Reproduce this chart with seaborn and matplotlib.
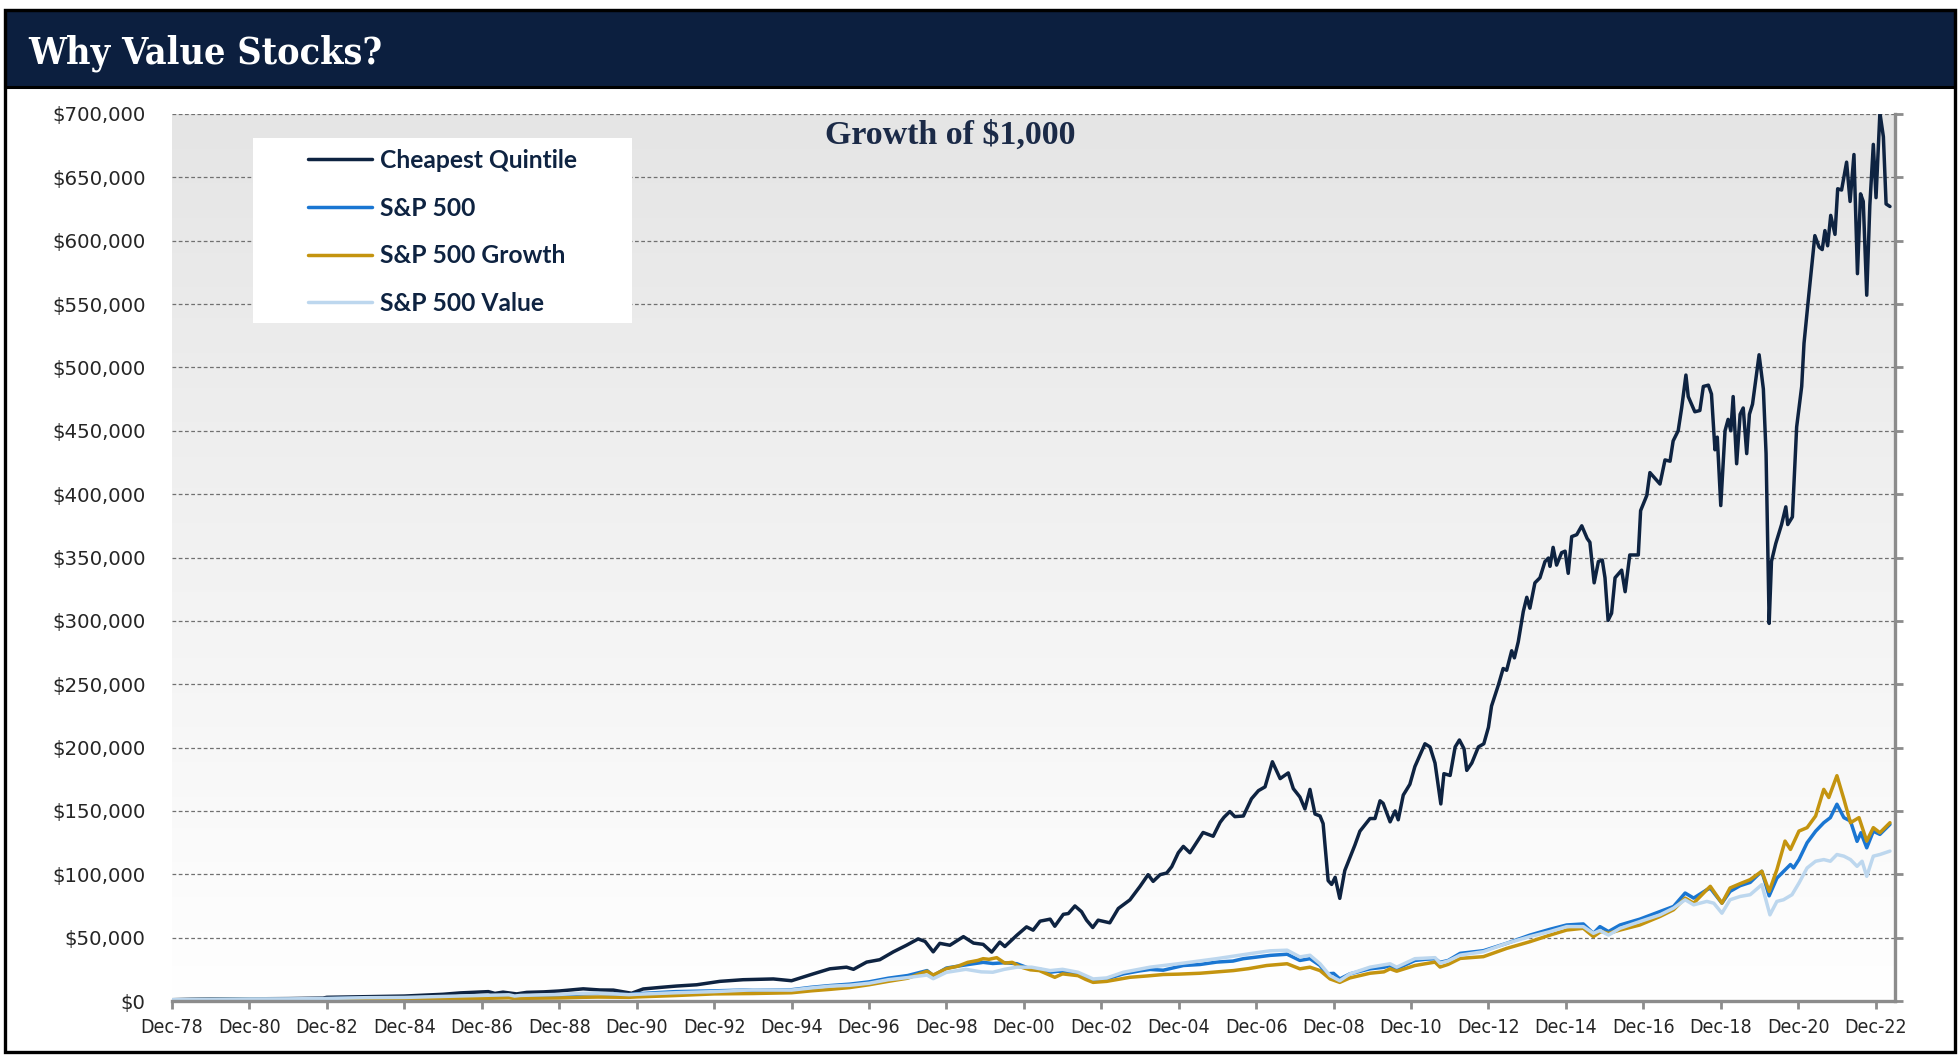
import numpy as np
import pandas as pd
import seaborn as sns
import matplotlib.pyplot as plt
from matplotlib.patches import Rectangle
from matplotlib.lines import Line2D
from matplotlib.colors import LinearSegmentedColormap
from matplotlib.ticker import FuncFormatter

series_names = ['Cheapest Quintile', 'S&P 500', 'S&P 500 Growth', 'S&P 500 Value']
series_colors = ['#0e2341', '#1a76d2', '#c4940f', '#bdd7ee']

tick_years = [1979, 1981, 1983, 1985, 1987, 1989, 1991, 1993, 1995, 1997, 1999, 2001,
              2003, 2005, 2007, 2009, 2011, 2013, 2015, 2017, 2019, 2021, 2023]
tick_labels = ['Dec-78', 'Dec-80', 'Dec-82', 'Dec-84', 'Dec-86', 'Dec-88', 'Dec-90', 'Dec-92',
               'Dec-94', 'Dec-96', 'Dec-98', 'Dec-00', 'Dec-02', 'Dec-04', 'Dec-06', 'Dec-08',
               'Dec-10', 'Dec-12', 'Dec-14', 'Dec-16', 'Dec-18', 'Dec-20', 'Dec-22']

# Cheapest quintile (x = decimal year, Dec-78 = 1979.0)
cq_year = [1979.00, 1979.50, 1980.00, 1981.00, 1982.00, 1982.90, 1983.00, 1984.00, 1985.00, 1986.00,
           1986.45, 1987.17, 1987.34, 1987.55, 1987.90, 1988.16, 1988.60, 1989.00, 1989.62, 1990.05,
           1990.40, 1990.87, 1991.17, 1991.60, 1992.03, 1992.55, 1993.15, 1993.75, 1994.53, 1995.00,
           1995.56, 1995.99, 1996.42, 1996.60, 1996.94, 1997.28, 1997.63, 1997.97, 1998.27, 1998.45,
           1998.66, 1998.83, 1999.09, 1999.44, 1999.70, 1999.95, 2000.17, 2000.38, 2000.51, 2000.82,
           2001.07, 2001.24, 2001.42, 2001.68, 2001.80, 2002.02, 2002.15, 2002.32, 2002.49, 2002.62,
           2002.78, 2002.92, 2003.22, 2003.44, 2003.74, 2004.00, 2004.21, 2004.34, 2004.52, 2004.69,
           2004.82, 2004.99, 2005.12, 2005.29, 2005.63, 2005.89, 2006.07, 2006.17, 2006.32, 2006.45,
           2006.67, 2006.88, 2007.06, 2007.23, 2007.42, 2007.62, 2007.83, 2007.96, 2008.13, 2008.26,
           2008.39, 2008.52, 2008.65, 2008.73, 2008.86, 2008.95, 2009.04, 2009.16, 2009.29, 2009.42,
           2009.55, 2009.68, 2009.94, 2010.07, 2010.20, 2010.28, 2010.46, 2010.59, 2010.67, 2010.80,
           2010.97, 2011.10, 2011.36, 2011.49, 2011.62, 2011.77, 2011.85, 2012.01, 2012.14, 2012.25,
           2012.37, 2012.44, 2012.57, 2012.74, 2012.88, 2013.00, 2013.08, 2013.26, 2013.38, 2013.47,
           2013.60, 2013.67, 2013.77, 2013.90, 2013.99, 2014.07, 2014.20, 2014.33, 2014.46, 2014.55,
           2014.59, 2014.67, 2014.76, 2014.89, 2014.98, 2015.06, 2015.15, 2015.28, 2015.41, 2015.55,
           2015.62, 2015.73, 2015.84, 2015.94, 2016.01, 2016.09, 2016.18, 2016.27, 2016.44, 2016.53,
           2016.65, 2016.87, 2016.93, 2017.09, 2017.17, 2017.43, 2017.56, 2017.69, 2017.77, 2017.90,
           2017.99, 2018.10, 2018.16, 2018.33, 2018.46, 2018.55, 2018.68, 2018.76, 2018.85, 2018.91,
           2019.00, 2019.11, 2019.19, 2019.26, 2019.32, 2019.41, 2019.50, 2019.58, 2019.67, 2019.74,
           2019.82, 2019.99, 2020.10, 2020.17, 2020.25, 2020.31, 2020.42, 2020.57, 2020.68, 2020.73,
           2020.85, 2020.96, 2021.09, 2021.15, 2021.26, 2021.43, 2021.54, 2021.62, 2021.69, 2021.76,
           2021.84, 2021.95, 2022.02, 2022.12, 2022.25, 2022.34, 2022.44, 2022.53, 2022.61, 2022.68,
           2022.77, 2022.85, 2022.94, 2023.01, 2023.11, 2023.20, 2023.27, 2023.37]
cq_value = [1000, 1300, 1500, 1700, 1900, 2300, 2900, 3400, 3900, 5300,
            6400, 7400, 6000, 7000, 5600, 6800, 7200, 7900, 9600, 8700,
            8600, 6100, 9500, 10700, 11800, 12800, 15500, 16800, 17400, 16000,
            21400, 25400, 26700, 25000, 30700, 32600, 38800, 44000, 49000, 47000,
            38800, 45500, 44000, 50800, 45700, 44700, 38600, 46500, 43000, 51900,
            58500, 55900, 63000, 64600, 59000, 68400, 69000, 75000, 70500, 63800,
            58000, 63800, 61700, 73000, 79800, 90400, 99700, 94400, 99700, 101000,
            106000, 117000, 122000, 117000, 133000, 130000, 141000, 145000, 149500, 145500,
            146000, 159600, 166000, 169000, 188800, 175500, 180000, 167600, 161000, 151600,
            167000, 147600, 146000, 140000, 95000, 92000, 97600, 81000, 103000, 113000,
            123000, 134000, 144000, 144000, 158000, 156000, 141400, 150000, 143000, 162500,
            171000, 185000, 203000, 200500, 187800, 155500, 179400, 178000, 200500, 206000,
            199000, 182000, 187800, 200500, 203000, 216000, 232800, 249700, 262400, 261000,
            276400, 270800, 283500, 307400, 318600, 310000, 330000, 334000, 346800, 349600,
            343000, 358000, 344000, 353800, 355000, 337500, 366500, 368000, 375000, 365000,
            362000, 330000, 346800, 348000, 334000, 300400, 306000, 334000, 340000, 323000,
            352000, 352000, 387000, 399000, 417000, 408000, 427000, 426000, 442000, 450000,
            468000, 494000, 477000, 465000, 466000, 485000, 486000, 479000, 435000, 445000,
            391000, 450000, 459000, 450000, 477000, 424000, 463000, 468000, 432000, 463000,
            471000, 510000, 483000, 432000, 298000, 347000, 361000, 376000, 390000, 376000,
            382000, 453000, 485000, 519000, 553000, 604000, 595000, 593000, 608000, 596000,
            620000, 605000, 641000, 640000, 662000, 631000, 668000, 574000, 637000, 631000,
            557000, 628000, 676000, 634000, 701000, 682000, 629000, 627000]

sp_year = [1979.0, 1980.0, 1981.0, 1982.0, 1983.0, 1984.0, 1985.0, 1986.0, 1987.0, 1987.7,
           1987.85, 1988.0, 1989.0, 1989.6, 1990.0, 1990.8, 1991.0, 1992.0, 1993.0, 1994.0,
           1995.0, 1995.5, 1996.0, 1996.5, 1997.0, 1997.5, 1998.0, 1998.5, 1998.66, 1999.0,
           1999.5, 1999.95, 2000.2, 2000.5, 2000.82, 2001.17, 2001.45, 2001.68, 2001.9, 2002.4,
           2002.62, 2002.79, 2003.14, 2003.57, 2004.0, 2004.26, 2004.6, 2005.12, 2005.55, 2005.98,
           2006.4, 2006.67, 2007.0, 2007.36, 2007.8, 2008.13, 2008.39, 2008.65, 2008.82, 2009.0,
           2009.16, 2009.42, 2009.94, 2010.3, 2010.46, 2010.63, 2011.1, 2011.4, 2011.62, 2011.75,
           2011.96, 2012.27, 2012.87, 2013.47, 2014.07, 2014.59, 2015.02, 2015.45, 2015.71, 2015.88,
           2016.1, 2016.4, 2016.91, 2017.43, 2017.78, 2018.08, 2018.3, 2018.64, 2018.73, 2019.03,
           2019.24, 2019.5, 2019.76, 2020.06, 2020.25, 2020.45, 2020.8, 2020.88, 2021.02, 2021.23,
           2021.45, 2021.66, 2021.83, 2022.0, 2022.18, 2022.35, 2022.52, 2022.62, 2022.77, 2022.94,
           2023.11, 2023.37]
sp_value = [1000, 1200, 1550, 1500, 1800, 2200, 2350, 3100, 3650, 4300,
            3300, 3850, 4500, 5600, 5900, 5000, 5700, 7400, 8000, 8800,
            8900, 10800, 12200, 13300, 15100, 18000, 20100, 24000, 20000, 26000,
            28500, 30500, 29600, 30200, 29400, 25400, 24800, 22700, 23500, 20900,
            18800, 16600, 17400, 21400, 23800, 24900, 24300, 28000, 28800, 30700,
            31500, 33400, 34600, 36000, 36900, 32000, 33400, 28000, 21400, 21800,
            17400, 21400, 25400, 26600, 28000, 25400, 32000, 33000, 33400, 30500,
            32000, 37600, 39700, 45500, 52000, 56600, 60000, 60800, 53400, 58700,
            54800, 60000, 64600, 70600, 74600, 85200, 81200, 87800, 89000, 77200,
            86500, 91000, 93600, 102400, 83000, 97000, 107700, 105000, 111600, 124900,
            134000, 140700, 144700, 155300, 144700, 142000, 126000, 132800, 120900, 134000,
            131500, 139400]

gr_year = [1979.0, 1980.0, 1981.0, 1982.0, 1983.0, 1984.0, 1985.0, 1986.0, 1987.0, 1987.7,
           1987.85, 1988.0, 1989.0, 1989.6, 1990.0, 1990.8, 1991.0, 1992.0, 1993.0, 1994.0,
           1995.0, 1995.5, 1996.0, 1996.5, 1997.0, 1997.5, 1998.0, 1998.5, 1998.66, 1999.0,
           1999.3, 1999.55, 1999.81, 1999.95, 2000.1, 2000.3, 2000.51, 2000.7, 2000.9, 2001.17,
           2001.4, 2001.55, 2001.8, 2002.0, 2002.4, 2002.6, 2002.79, 2003.14, 2003.74, 2004.2,
           2004.6, 2005.0, 2005.55, 2006.0, 2006.41, 2006.8, 2007.27, 2007.8, 2008.13, 2008.39,
           2008.65, 2008.91, 2009.16, 2009.42, 2009.94, 2010.3, 2010.46, 2010.63, 2011.1, 2011.62,
           2011.75, 2011.96, 2012.27, 2012.87, 2013.47, 2014.07, 2014.59, 2015.02, 2015.45, 2015.71,
           2015.9, 2016.1, 2016.4, 2016.91, 2017.43, 2017.78, 2018.08, 2018.3, 2018.64, 2018.73,
           2019.03, 2019.24, 2019.5, 2019.76, 2020.06, 2020.25, 2020.45, 2020.66, 2020.8, 2021.02,
           2021.23, 2021.45, 2021.66, 2021.79, 2022.0, 2022.18, 2022.35, 2022.57, 2022.77, 2022.94,
           2023.11, 2023.37]
gr_value = [1000, 1100, 1250, 1150, 1250, 1350, 1400, 1700, 2000, 2500,
            1950, 2100, 2400, 2900, 3100, 2900, 3200, 4300, 5600, 5900,
            6500, 8000, 9200, 10600, 12800, 15500, 18000, 23500, 20500, 25500,
            27500, 30500, 32000, 33400, 32900, 34200, 29900, 30500, 27000, 24600,
            24000, 22000, 18700, 21400, 20000, 17000, 14700, 15500, 18700, 19800,
            20900, 21200, 21900, 23000, 24000, 25500, 28000, 29400, 25400, 26700,
            24000, 17400, 14700, 18200, 21900, 23000, 25400, 23500, 28000, 30700,
            26800, 28900, 33600, 35000, 41500, 46800, 52000, 56000, 57400, 50800,
            54800, 53400, 56000, 60000, 66700, 72000, 81200, 77200, 87800, 90500,
            77200, 89200, 92600, 95800, 102400, 86500, 103700, 126200, 119600, 134100,
            136800, 146000, 167000, 160600, 177800, 159300, 140700, 144700, 126200, 136800,
            132800, 140700]

va_year = [1979.0, 1980.0, 1981.0, 1982.0, 1983.0, 1984.0, 1985.0, 1986.0, 1987.0, 1987.7,
           1987.85, 1988.0, 1989.0, 1989.6, 1990.0, 1990.8, 1991.0, 1992.0, 1993.0, 1994.0,
           1995.0, 1995.5, 1996.0, 1996.5, 1997.0, 1997.5, 1998.0, 1998.5, 1998.66, 1999.0,
           1999.5, 1999.9, 2000.2, 2000.5, 2000.82, 2001.2, 2001.68, 2002.0, 2002.4, 2002.79,
           2003.14, 2003.57, 2004.26, 2005.12, 2005.98, 2006.85, 2007.36, 2007.8, 2008.13, 2008.39,
           2008.65, 2008.91, 2009.16, 2009.42, 2009.94, 2010.46, 2010.63, 2011.1, 2011.62, 2011.75,
           2011.96, 2012.27, 2012.87, 2013.47, 2014.07, 2014.59, 2015.02, 2015.45, 2015.71, 2015.88,
           2016.1, 2016.4, 2016.91, 2017.43, 2017.78, 2018.08, 2018.3, 2018.64, 2018.82, 2019.03,
           2019.24, 2019.5, 2019.76, 2020.06, 2020.27, 2020.45, 2020.62, 2020.84, 2021.02, 2021.23,
           2021.45, 2021.66, 2021.83, 2022.0, 2022.18, 2022.35, 2022.52, 2022.65, 2022.77, 2022.94,
           2023.11, 2023.37]
va_value = [1000, 1250, 1600, 1650, 2000, 2600, 2800, 3600, 4400, 4900,
            3900, 4400, 5200, 6100, 6200, 5000, 5300, 6500, 7400, 8800,
            8600, 10300, 11700, 12400, 14000, 16800, 18500, 20500, 17600, 22600,
            25000, 23000, 22700, 25000, 26700, 26700, 24000, 25000, 22700, 17400,
            18200, 22700, 26700, 29900, 33400, 37400, 39600, 40100, 34800, 36100,
            29400, 20000, 16000, 21400, 26700, 29400, 26700, 33400, 34200, 29800,
            31600, 36200, 38900, 45500, 50800, 54800, 58700, 58700, 53400, 55600,
            52000, 57400, 62700, 68000, 73300, 79900, 75900, 78600, 77200, 69300,
            79900, 82500, 83900, 91800, 68000, 78600, 79900, 83900, 93100, 105000,
            110300, 111600, 110300, 115600, 114300, 111600, 106300, 110300, 98400, 114300,
            115600, 118300]

frames = []
for name, yrs, vals in zip(series_names,
                           [cq_year, sp_year, gr_year, va_year],
                           [cq_value, sp_value, gr_value, va_value]):
    frames.append(pd.DataFrame({'year': yrs, 'value': vals, 'series': name}))
df = pd.concat(frames, ignore_index=True)

sns.set_style('white')
plt.rcParams['font.family'] = ['DejaVu Sans']

W, H = 1960, 1060
fig = plt.figure(figsize=(19.6, 10.6), dpi=100)
fig.patch.set_facecolor('white')

# header bar and outer frame
fig.add_artist(Rectangle((5 / W, 1 - 87 / H), 1950 / W, 77 / H, transform=fig.transFigure,
                         facecolor='#0c1f3f', edgecolor='black', lw=2.2))
fig.add_artist(Rectangle((5 / W, 1 - 1052 / H), 1950 / W, 1042 / H, transform=fig.transFigure,
                         fill=False, edgecolor='black', lw=2.4))
fig.text(28 / W, 1 - 63 / H, 'Why Value Stocks?', color='white', fontsize=27,
         fontweight='bold', family='DejaVu Serif', fontstretch='condensed', va='baseline')

ax = fig.add_axes([172 / W, 1 - 1001 / H, (1895 - 172) / W, (1001 - 114) / H])

# grey-to-white background gradient
grad = np.linspace(0, 1, 256).reshape(-1, 1)
bg_cmap = LinearSegmentedColormap.from_list('bg', ['#e5e5e5', '#ffffff'])
ax.imshow(grad, cmap=bg_cmap, extent=(0, 1, 0, 1), transform=ax.transAxes,
          aspect='auto', zorder=-5)

sns.lineplot(data=df, x='year', y='value', hue='series', hue_order=series_names,
             palette=series_colors, estimator=None, sort=False, linewidth=2.5,
             legend=False, ax=ax)

ax.set_xlim(1979, 2023.5)
ax.set_ylim(0, 700000)
ax.set_xticks(tick_years)
ax.set_xticklabels(tick_labels)
ax.set_yticks(np.arange(0, 700001, 50000))
ax.yaxis.set_major_formatter(FuncFormatter(lambda v, p: '${:,.0f}'.format(v)))
ax.set_xlabel('')
ax.set_ylabel('')

ax.set_axisbelow(True)
ax.yaxis.grid(True, color='#707070', linestyle=(0, (3, 2)), linewidth=0.9)
ax.xaxis.grid(False)

for s in ['left', 'top']:
    ax.spines[s].set_visible(False)
for s in ['right', 'bottom']:
    ax.spines[s].set_color('#8c8c8c')
    ax.spines[s].set_linewidth(2.4)

ax.tick_params(axis='y', left=False, right=True, labelleft=True, labelright=False,
               direction='out', length=6, width=2, color='#8c8c8c', pad=13,
               labelsize=14.2, labelcolor='#262626')
ax.tick_params(axis='x', bottom=True, direction='out', length=6, width=2,
               color='#8c8c8c', pad=6, labelsize=14, labelcolor='#262626')
for lab in ax.get_xticklabels():
    lab.set_fontstretch('condensed')

ax.text(0.4515, 0.9755, 'Growth of $1,000', transform=ax.transAxes, ha='center', va='center',
        fontsize=24.5, fontweight='bold', family='Liberation Serif', color='#1b2a47')

# legend with white box
ax.add_patch(Rectangle((253 / W, 1 - 323 / H), 379 / W, 185 / H, transform=fig.transFigure,
                       facecolor='white', edgecolor='none', zorder=1.5))
handles = [Line2D([0], [0], color=c, lw=2.5) for c in series_colors]
ax.legend(handles, series_names, loc='upper left', bbox_to_anchor=(308 / W, 1 - 149 / H),
          bbox_transform=fig.transFigure, frameon=False, borderpad=0, borderaxespad=0,
          handlelength=2.62, handletextpad=0.3, labelspacing=1.0, labelcolor='#0e2341',
          prop={'family': 'Lato', 'weight': 'bold', 'size': 17.7})

plt.savefig('out.png', dpi=100)
